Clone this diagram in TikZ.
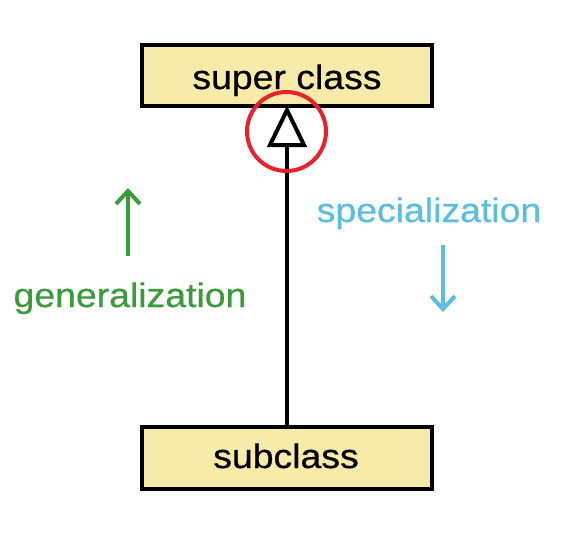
\documentclass[tikz,border=0pt]{standalone}
\usepackage{fontspec}
\setmainfont{Liberation Sans}
\newfontfamily\lblfont{Liberation Sans}[FakeBold=0.6]
\usetikzlibrary{arrows.meta}
\definecolor{boxfill}{HTML}{F8EAA8}
\definecolor{gengreen}{HTML}{3C9A3C}
\definecolor{specblue}{HTML}{5CBDE2}
\definecolor{circred}{HTML}{E8202A}
\newcommand{\wtxt}[1]{\scalebox{1.1}[1]{#1}}
\tikzset{
  classbox/.style={draw=black, line width=4pt, fill=boxfill, minimum width=290pt, inner sep=0pt},
  lbl/.style={font=\lblfont\fontsize{34}{38}\selectfont, inner sep=0pt, anchor=base},
  flowarrow/.style={line width=4pt, -{Straight Barb[length=13pt, width=24pt, line width=4pt]}},
}
\begin{document}
\begin{tikzpicture}[x=1pt,y=-1pt]
\useasboundingbox (0,0) rectangle (576,542);
\node[classbox, minimum height=61pt] (sup) at (287,75) {};
\node[classbox, minimum height=62pt] (sub) at (287,457.5) {};
\node[lbl] (suptxt) at (287,89) {\wtxt{super class}};
\node[lbl] (subtxt) at (286,468) {\wtxt{subclass}};
\coordinate (tapex) at (287,110);
\coordinate (tl) at (270,145);
\coordinate (tr) at (304,145);
\coordinate (tb) at (287,145);
\draw[line width=3.5pt] (sub.north) -- (tb);
\draw[line width=4pt, line join=miter] (tapex) -- (tr) -- (tl) -- cycle;
\node[draw=circred, line width=4pt, circle, minimum size=79pt, inner sep=0pt] (hl) at (286.5,131.5) {};
\node[lbl, text=gengreen] (gen) at (130,307) {\wtxt{generalization}};
\coordinate (g1) at (128,256);
\coordinate (g2) at (128,188);
\draw[flowarrow, gengreen] (g1) -- (g2);
\node[lbl, text=specblue] (spec) at (429,222) {\wtxt{specialization}};
\coordinate (b1) at (443,245);
\coordinate (b2) at (443,312);
\draw[flowarrow, specblue] (b1) -- (b2);
\end{tikzpicture}
\end{document}
